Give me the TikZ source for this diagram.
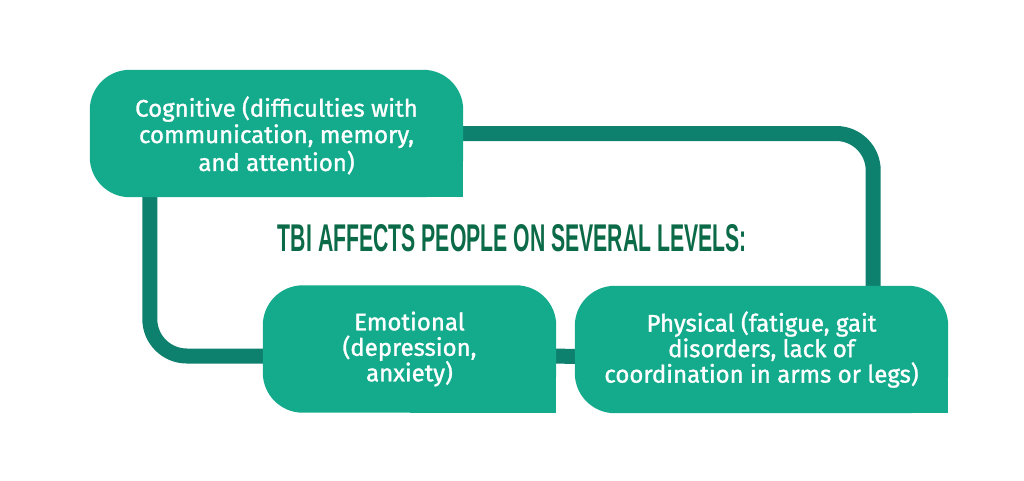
\documentclass[tikz,border=0pt]{standalone}
\usepackage{fontspec}
\usepackage{graphicx}
\setmainfont{Fira Sans}[FakeBold=1.3]
\newfontfamily\headfont{Liberation Sans}
\usetikzlibrary{positioning,calc,backgrounds}
\definecolor{BoxTeal}{RGB}{20,171,141}
\definecolor{LinkTeal}{RGB}{14,129,110}
\definecolor{HeadGreen}{RGB}{11,106,72}

\begin{document}
\begin{tikzpicture}[
      x=1pt,y=-1pt,
      levelbox/.style={minimum width=373pt,minimum height=127pt,inner sep=0pt,align=center,text=white,font=\fontsize{24}{25.5}\selectfont},
      link/.style={line width=15pt,LinkTeal,rounded corners=37pt}
    ]
    \useasboundingbox (0,0) rectangle (1024,480);
    \node[levelbox] (cog) at (276.5,133.5) {\raisebox{-4pt}[\height][\depth]{\begin{tabular}{@{}c@{}}Cognitive (difficulties with\\communication, memory,\\and attention)\end{tabular}}};
    \node[levelbox,minimum width=293pt] (emo) at (409.5,349) {Emotional\\(depression,\\anxiety)};
    \node[levelbox] (phy) at (761.5,349.5) {Physical (fatigue, gait\\disorders, lack of\\coordination in arms or legs)};
    \node[text=HeadGreen,inner sep=0pt] (head) at (512.5,238.5) {\resizebox{469pt}{27pt}{\headfont\bfseries TBI AFFECTS PEOPLE ON SEVERAL LEVELS:}};
    \begin{pgfonlayer}{background}
      \draw[link] (cog.center) -| ($(phy.north east)+(-75,10)$);
      \draw[link] ($(cog.south west)+(60,-10)$) |- ($(emo.west)+(10,7)$);
      \draw[link] ($(emo.east)+(-10,7)$) -- ($(phy.west)+(10,7)$);
      \foreach \n in {cog,emo,phy}{
        \fill[BoxTeal,rounded corners=40pt] (\n.south west) rectangle (\n.north east);
        \fill[BoxTeal] (\n.center) rectangle (\n.south east);
      }
    \end{pgfonlayer}
  \end{tikzpicture}
\end{document}
